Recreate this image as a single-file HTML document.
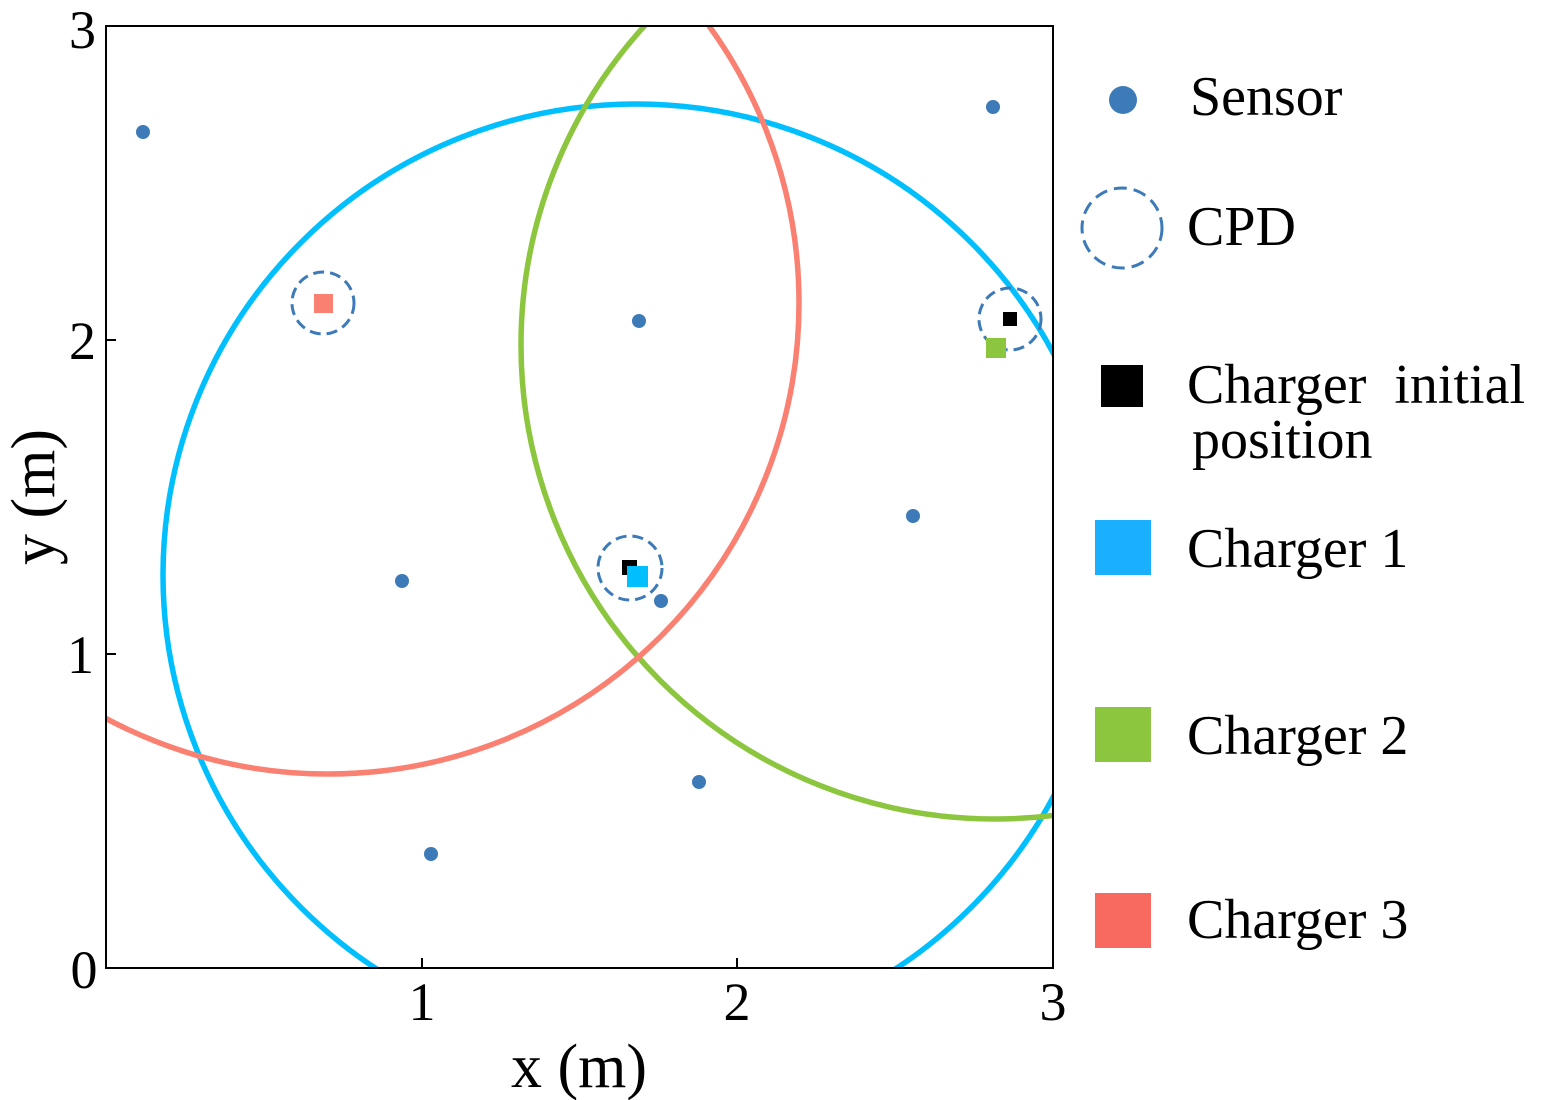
<!DOCTYPE html>
<html><head><style>body{margin:0;background:#fff}svg{display:block}</style></head><body>
<svg width="1542" height="1100" xmlns="http://www.w3.org/2000/svg" font-family="Liberation Serif, serif">
<defs><clipPath id="c"><rect x="106" y="26" width="947" height="942"/></clipPath></defs>
<g clip-path="url(#c)" fill="none" stroke-width="5.5">
<ellipse cx="636" cy="575" rx="473" ry="471" stroke="#00bfff"/>
<circle cx="995" cy="345" r="474" stroke="#8cc63f"/>
<circle cx="328" cy="303" r="471" stroke="#fa8072"/>
</g>
<g fill="#3d7ab8">
<circle cx="143" cy="132" r="7"/><circle cx="993" cy="107" r="7"/><circle cx="639" cy="321" r="7"/>
<circle cx="402" cy="581" r="7"/><circle cx="913" cy="516" r="7"/><circle cx="661" cy="601" r="7"/>
<circle cx="699" cy="782" r="7"/><circle cx="431" cy="854" r="7"/>
</g>
<g fill="none" stroke="#3d7ab8" stroke-width="3" stroke-dasharray="11,6">
<circle cx="323" cy="303" r="31"/><circle cx="1010" cy="319" r="31"/><circle cx="630" cy="568" r="32"/>
</g>
<rect x="314" y="294" width="19" height="19" fill="#fa8072"/>
<rect x="1003" y="312" width="14" height="14" fill="#000"/>
<rect x="986" y="338" width="20" height="20" fill="#8cc63f"/>
<rect x="622" y="560" width="15" height="15" fill="#000"/>
<rect x="627" y="566" width="21" height="21" fill="#00bfff"/>
<rect x="106" y="26" width="947" height="942" fill="none" stroke="#000" stroke-width="2"/>
<g stroke="#000" stroke-width="2">
<line x1="422" y1="968" x2="422" y2="958"/><line x1="737" y1="968" x2="737" y2="958"/>
<line x1="106" y1="654" x2="116" y2="654"/><line x1="106" y1="340" x2="116" y2="340"/>
</g>
<g font-size="54" fill="#000">
<text x="84" y="988" text-anchor="middle">0</text>
<text x="94" y="673" text-anchor="end">1</text><text x="96" y="359" text-anchor="end">2</text><text x="96" y="48" text-anchor="end">3</text>
<text x="422" y="1020" text-anchor="middle">1</text><text x="737" y="1020" text-anchor="middle">2</text><text x="1053" y="1020" text-anchor="middle">3</text>
</g>
<g font-size="62" fill="#000">
<text x="579" y="1087" text-anchor="middle">x (m)</text>
<text transform="translate(54,497) rotate(-90)" text-anchor="middle">y (m)</text>
</g>
<circle cx="1123" cy="100" r="14" fill="#3d7ab8"/>
<circle cx="1122" cy="228" r="40" fill="none" stroke="#3d7ab8" stroke-width="3" stroke-dasharray="13,7"/>
<rect x="1101" y="365" width="42" height="42" fill="#000"/>
<rect x="1095" y="520" width="56" height="55" fill="#1ab0ff"/>
<rect x="1095" y="707" width="56" height="55" fill="#8cc63f"/>
<rect x="1095" y="893" width="56" height="55" fill="#f86a5f"/>
<g font-size="56" fill="#000">
<text x="1190" y="115">Sensor</text>
<text x="1187" y="245">CPD</text>
<text x="1187" y="403" xml:space="preserve">Charger  initial</text>
<text x="1192" y="458">position</text>
<text x="1187" y="567">Charger 1</text>
<text x="1187" y="754">Charger 2</text>
<text x="1187" y="938">Charger 3</text>
</g>
</svg>
</body></html>
